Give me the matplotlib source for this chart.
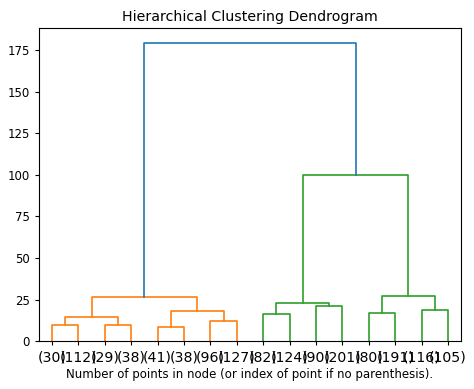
import matplotlib
matplotlib.use("Agg")
import matplotlib.pyplot as plt

leaf_labels = ["(30)", "(112)", "(29)", "(38)", "(41)", "(38)", "(96)", "(127)",
               "(82)", "(124)", "(90)", "(201)", "(80)", "(191)", "(116)", "(105)"]

# merges: (left node, right node, height, color); nodes 0..15 are leaves, merged nodes follow
pairs = [
    (0, 1, 9.6, "C1"),     # 16
    (2, 3, 9.5, "C1"),     # 17
    (4, 5, 8.4, "C1"),     # 18
    (6, 7, 12.4, "C1"),    # 19
    (16, 17, 14.4, "C1"),  # 20
    (18, 19, 18.4, "C1"),  # 21
    (20, 21, 26.3, "C1"),  # 22
    (8, 9, 16.2, "C2"),    # 23
    (10, 11, 21.2, "C2"),  # 24
    (23, 24, 22.9, "C2"),  # 25
    (12, 13, 17.0, "C2"),  # 26
    (14, 15, 18.6, "C2"),  # 27
    (26, 27, 27.2, "C2"),  # 28
    (25, 28, 100.0, "C2"), # 29
    (22, 29, 179.4, "C0"), # 30
]

fig = plt.figure(figsize=(4.74, 3.89), dpi=100)
ax = fig.add_axes([0.082, 0.123, 0.891, 0.805])

n = len(leaf_labels)
xpos = {i: 5 + 10 * i for i in range(n)}
ypos = {i: 0.0 for i in range(n)}
for k, (a, b, h, c) in enumerate(pairs):
    node = n + k
    xa, xb = xpos[a], xpos[b]
    ax.plot([xa, xa, xb, xb], [ypos[a], h, h, ypos[b]], color=c, lw=1.2)
    xpos[node] = (xa + xb) / 2
    ypos[node] = h

maxh = max(p[2] for p in pairs)
ax.set_ylim(0, maxh * 1.05)
ax.set_xlim(0, 10 * n)
ax.set_xticks([5 + 10 * i for i in range(n)])
ax.set_xticklabels(leaf_labels, fontsize=10.2)
ax.tick_params(axis="y", labelsize=8.5, length=3)
ax.tick_params(axis="x", length=3)
ax.set_title("Hierarchical Clustering Dendrogram", fontsize=10.2, pad=5)
ax.set_xlabel("Number of points in node (or index of point if no parenthesis).", fontsize=8.5, labelpad=3)

fig.savefig("out.png", dpi=100)
